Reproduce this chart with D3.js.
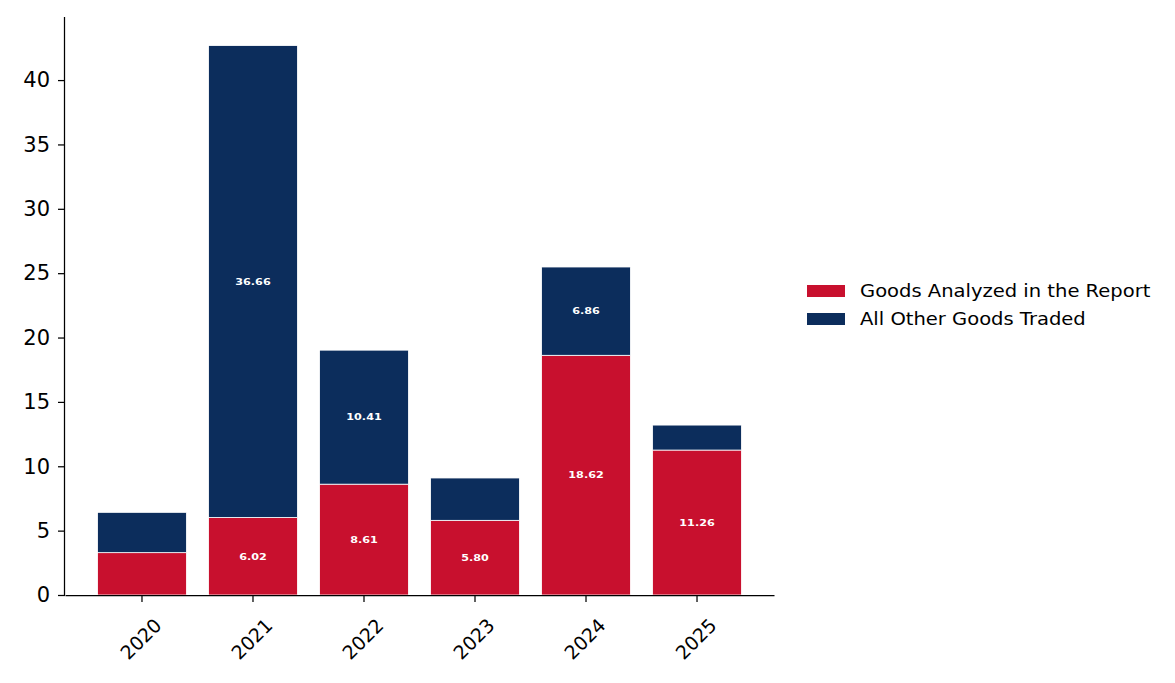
<!DOCTYPE html>
<html>
<head>
<meta charset="utf-8">
<script src="https://cdn.jsdelivr.net/npm/d3@7"></script>
<style>
	body { margin: 0; background: #fff; }
	text { font-family: "DejaVu Sans", sans-serif; }
	.axis path, .axis line { stroke: #000; stroke-width: 1.25; }
	.axis text { fill: #000; }
</style>
</head>
<body>
<svg id="chart" width="1175" height="683"></svg>
<script>
// data
const years = ['2020', '2021', '2022', '2023', '2024', '2025'];
const analyzed = [3.29, 6.02, 8.61, 5.80, 18.62, 11.26];
const otherGoods = [3.13, 36.66, 10.41, 3.29, 6.86, 1.94];
const yTicks = [0, 5, 10, 15, 20, 25, 30, 35, 40];
const seriesNames = ['Goods Analyzed in the Report', 'All Other Goods Traded'];
const colors = ['#C8102E', '#0C2D5C'];

const margin = {top: 17, right: 401, bottom: 88, left: 65};
const width = 1175 - margin.left - margin.right;
const height = 683 - margin.top - margin.bottom;

const svg = d3.select('#chart');
const g = svg.append('g')
	.attr('transform', `translate(${margin.left},${margin.top})`);

// scales
const xScale = d3.scaleBand()
	.domain(years)
	.range([0, width])
	.paddingInner(0.2)
	.paddingOuter(0.2935);

const yScale = d3.scaleLinear()
	.domain([0, 44.9])
	.range([height, 0]);

// stack the two series
const rows = years.map((y, i) => ({year: y, analyzed: analyzed[i], other: otherGoods[i]}));
const stacked = d3.stack().keys(['analyzed', 'other'])(rows);

const layers = g.selectAll('.layer')
	.data(stacked)
	.enter()
	.append('g')
		.attr('class', 'layer')
		.attr('fill', (d, i) => colors[i]);

layers.selectAll('rect')
	.data(d => d)
	.enter()
	.append('rect')
		.attr('x', d => xScale(d.data.year))
		.attr('y', d => yScale(d[1]))
		.attr('width', xScale.bandwidth())
		.attr('height', d => yScale(d[0]) - yScale(d[1]))
		.attr('stroke', '#fff')
		.attr('stroke-width', 0.8);

// value labels, only on segments big enough to hold them
layers.selectAll('.bar-label')
	.data(d => d.filter(s => s[1] - s[0] >= 5))
	.enter()
	.append('text')
		.attr('class', 'bar-label')
		.attr('transform', d => {
			const cx = xScale(d.data.year) + xScale.bandwidth() / 2;
			const cy = yScale((d[0] + d[1]) / 2);
			return `translate(${cx},${cy}) scale(1.18,1)`;
		})
		.attr('dy', '0.35em')
		.attr('text-anchor', 'middle')
		.attr('fill', '#fff')
		.attr('font-size', '9.5px')
		.attr('font-weight', 'bold')
		.text(d => (d[1] - d[0]).toFixed(2));

// y axis
const yAxis = d3.axisLeft(yScale)
	.tickValues(yTicks)
	.tickSize(7)
	.tickPadding(8);

g.append('g')
	.attr('class', 'axis y-axis')
	.call(yAxis)
	.call(a => a.selectAll('text').attr('font-size', '21px'))
	.call(a => a.select('.domain').attr('d', `M-0.5,0V${height}`));

// x axis
const xAxis = d3.axisBottom(xScale)
	.tickSize(7)
	.tickSizeOuter(0);

g.append('g')
	.attr('class', 'axis x-axis')
	.attr('transform', `translate(0,${height})`)
	.call(xAxis)
	.call(a => a.selectAll('text')
		.attr('font-size', '19px')
		.attr('text-anchor', 'middle')
		.attr('dy', '0.35em')
		.attr('y', 0)
		.attr('transform', 'translate(-1,44) rotate(-45)'));

// legend
const legend = svg.append('g')
	.attr('transform', 'translate(807,285)');

const items = legend.selectAll('.item')
	.data(seriesNames)
	.enter()
	.append('g')
		.attr('class', 'item')
		.attr('transform', (d, i) => `translate(0,${i * 28})`);

items.append('rect')
	.attr('width', 38)
	.attr('height', 12)
	.attr('fill', (d, i) => colors[i]);

items.append('text')
	.attr('transform', 'translate(53,12) scale(1.15,1)')
	.attr('font-size', '17px')
	.attr('fill', '#000')
	.text(d => d);
</script>
</body>
</html>
